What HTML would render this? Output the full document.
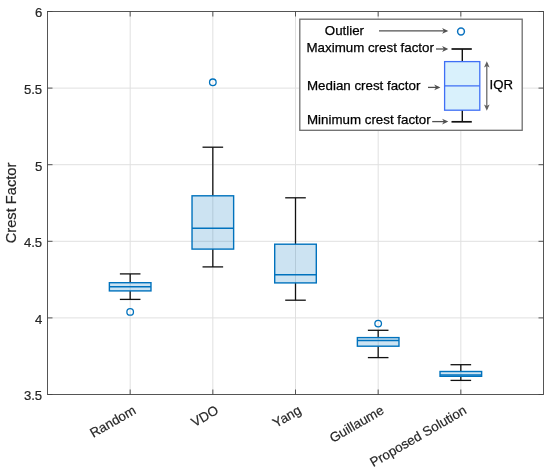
<!DOCTYPE html>
<html><head><meta charset="utf-8"><title>Crest Factor box plot</title>
<style>html,body{margin:0;padding:0;background:#fff;}svg{display:block;}text{font-family:"Liberation Sans",Arial,sans-serif;fill:#262626;stroke:#262626;stroke-width:0.2px;}text.lg{fill:#000;stroke:#000;stroke-width:0.25px;}</style></head><body>
<svg width="550" height="471" viewBox="0 0 550 471">
<rect x="0" y="0" width="550" height="471" fill="#fff"/>
<g stroke="#e0e0e0" stroke-width="1" fill="none">
<line x1="130.17" y1="11.5" x2="130.17" y2="394.5"/>
<line x1="212.83" y1="11.5" x2="212.83" y2="394.5"/>
<line x1="295.50" y1="11.5" x2="295.50" y2="394.5"/>
<line x1="378.17" y1="11.5" x2="378.17" y2="394.5"/>
<line x1="460.83" y1="11.5" x2="460.83" y2="394.5"/>
<line x1="47.5" y1="88.10" x2="543.5" y2="88.10"/>
<line x1="47.5" y1="164.70" x2="543.5" y2="164.70"/>
<line x1="47.5" y1="241.30" x2="543.5" y2="241.30"/>
<line x1="47.5" y1="317.90" x2="543.5" y2="317.90"/>
</g>
<g>
<rect x="109.37" y="282.70" width="41.60" height="8.20" fill="#0072bd" fill-opacity="0.2" stroke="none"/>
<g stroke="#111" stroke-width="1.3" fill="none">
<line x1="130.17" y1="273.90" x2="130.17" y2="282.70"/>
<line x1="130.17" y1="290.90" x2="130.17" y2="299.40"/>
<line x1="119.87" y1="273.90" x2="140.47" y2="273.90"/>
<line x1="119.87" y1="299.40" x2="140.47" y2="299.40"/>
</g>
<rect x="109.37" y="282.70" width="41.60" height="8.20" fill="none" stroke="#0072bd" stroke-width="1.4"/>
<line x1="109.37" y1="286.70" x2="150.97" y2="286.70" stroke="#0072bd" stroke-width="1.5"/>
<circle cx="130.17" cy="311.90" r="3.3" fill="none" stroke="#0072bd" stroke-width="1.3"/>
</g>
<g>
<rect x="192.03" y="195.80" width="41.60" height="53.30" fill="#0072bd" fill-opacity="0.2" stroke="none"/>
<g stroke="#111" stroke-width="1.3" fill="none">
<line x1="212.83" y1="147.20" x2="212.83" y2="195.80"/>
<line x1="212.83" y1="249.10" x2="212.83" y2="266.90"/>
<line x1="202.53" y1="147.20" x2="223.13" y2="147.20"/>
<line x1="202.53" y1="266.90" x2="223.13" y2="266.90"/>
</g>
<rect x="192.03" y="195.80" width="41.60" height="53.30" fill="none" stroke="#0072bd" stroke-width="1.4"/>
<line x1="192.03" y1="228.20" x2="233.63" y2="228.20" stroke="#0072bd" stroke-width="1.5"/>
<circle cx="212.83" cy="82.30" r="3.3" fill="none" stroke="#0072bd" stroke-width="1.3"/>
</g>
<g>
<rect x="274.70" y="244.20" width="41.60" height="38.70" fill="#0072bd" fill-opacity="0.2" stroke="none"/>
<g stroke="#111" stroke-width="1.3" fill="none">
<line x1="295.50" y1="197.80" x2="295.50" y2="244.20"/>
<line x1="295.50" y1="282.90" x2="295.50" y2="300.20"/>
<line x1="285.20" y1="197.80" x2="305.80" y2="197.80"/>
<line x1="285.20" y1="300.20" x2="305.80" y2="300.20"/>
</g>
<rect x="274.70" y="244.20" width="41.60" height="38.70" fill="none" stroke="#0072bd" stroke-width="1.4"/>
<line x1="274.70" y1="274.70" x2="316.30" y2="274.70" stroke="#0072bd" stroke-width="1.5"/>
</g>
<g>
<rect x="357.37" y="337.60" width="41.60" height="8.60" fill="#0072bd" fill-opacity="0.2" stroke="none"/>
<g stroke="#111" stroke-width="1.3" fill="none">
<line x1="378.17" y1="330.30" x2="378.17" y2="337.60"/>
<line x1="378.17" y1="346.20" x2="378.17" y2="357.60"/>
<line x1="367.87" y1="330.30" x2="388.47" y2="330.30"/>
<line x1="367.87" y1="357.60" x2="388.47" y2="357.60"/>
</g>
<rect x="357.37" y="337.60" width="41.60" height="8.60" fill="none" stroke="#0072bd" stroke-width="1.4"/>
<line x1="357.37" y1="340.60" x2="398.97" y2="340.60" stroke="#0072bd" stroke-width="1.5"/>
<circle cx="378.17" cy="323.60" r="3.3" fill="none" stroke="#0072bd" stroke-width="1.3"/>
</g>
<g>
<rect x="440.03" y="371.50" width="41.60" height="4.80" fill="#0072bd" fill-opacity="0.2" stroke="none"/>
<g stroke="#111" stroke-width="1.3" fill="none">
<line x1="460.83" y1="364.70" x2="460.83" y2="371.50"/>
<line x1="460.83" y1="376.30" x2="460.83" y2="380.40"/>
<line x1="450.53" y1="364.70" x2="471.13" y2="364.70"/>
<line x1="450.53" y1="380.40" x2="471.13" y2="380.40"/>
</g>
<rect x="440.03" y="371.50" width="41.60" height="4.80" fill="none" stroke="#0072bd" stroke-width="1.4"/>
<line x1="440.03" y1="375.00" x2="481.63" y2="375.00" stroke="#0072bd" stroke-width="1.5"/>
</g>
<g stroke="#444" stroke-width="0.9" fill="none">
<rect x="47.5" y="11.5" width="496.0" height="383.0"/>
<line x1="130.17" y1="394.5" x2="130.17" y2="389.5"/>
<line x1="130.17" y1="11.5" x2="130.17" y2="16.5"/>
<line x1="212.83" y1="394.5" x2="212.83" y2="389.5"/>
<line x1="212.83" y1="11.5" x2="212.83" y2="16.5"/>
<line x1="295.50" y1="394.5" x2="295.50" y2="389.5"/>
<line x1="295.50" y1="11.5" x2="295.50" y2="16.5"/>
<line x1="378.17" y1="394.5" x2="378.17" y2="389.5"/>
<line x1="378.17" y1="11.5" x2="378.17" y2="16.5"/>
<line x1="460.83" y1="394.5" x2="460.83" y2="389.5"/>
<line x1="460.83" y1="11.5" x2="460.83" y2="16.5"/>
<line x1="47.5" y1="11.50" x2="52.5" y2="11.50"/>
<line x1="543.5" y1="11.50" x2="538.5" y2="11.50"/>
<line x1="47.5" y1="88.10" x2="52.5" y2="88.10"/>
<line x1="543.5" y1="88.10" x2="538.5" y2="88.10"/>
<line x1="47.5" y1="164.70" x2="52.5" y2="164.70"/>
<line x1="543.5" y1="164.70" x2="538.5" y2="164.70"/>
<line x1="47.5" y1="241.30" x2="52.5" y2="241.30"/>
<line x1="543.5" y1="241.30" x2="538.5" y2="241.30"/>
<line x1="47.5" y1="317.90" x2="52.5" y2="317.90"/>
<line x1="543.5" y1="317.90" x2="538.5" y2="317.90"/>
<line x1="47.5" y1="394.50" x2="52.5" y2="394.50"/>
<line x1="543.5" y1="394.50" x2="538.5" y2="394.50"/>
</g>
<text x="42.2" y="17.30" font-size="13.15" text-anchor="end">6</text>
<text x="42.2" y="93.90" font-size="13.15" text-anchor="end">5.5</text>
<text x="42.2" y="170.50" font-size="13.15" text-anchor="end">5</text>
<text x="42.2" y="247.10" font-size="13.15" text-anchor="end">4.5</text>
<text x="42.2" y="323.70" font-size="13.15" text-anchor="end">4</text>
<text x="42.2" y="400.30" font-size="13.15" text-anchor="end">3.5</text>
<text transform="translate(16.2,203) rotate(-90)" font-size="14.67" text-anchor="middle">Crest Factor</text>
<text transform="translate(136.87,412.90) rotate(-30)" font-size="13.33" text-anchor="end">Random</text>
<text transform="translate(219.53,412.90) rotate(-30)" font-size="13.33" text-anchor="end">VDO</text>
<text transform="translate(302.20,412.90) rotate(-30)" font-size="13.33" text-anchor="end">Yang</text>
<text transform="translate(384.87,412.90) rotate(-30)" font-size="13.33" text-anchor="end">Guillaume</text>
<text transform="translate(467.53,412.90) rotate(-30)" font-size="13.33" text-anchor="end">Proposed Solution</text>
<g>
<rect x="299.8" y="19.2" width="222.4" height="111.1" fill="#fff" stroke="#6e6e6e" stroke-width="1.3"/>
<text x="324.8" y="34.6" font-size="13.33" class="lg">Outlier</text>
<text x="306.5" y="51.8" font-size="13.33" class="lg">Maximum crest factor</text>
<text x="307.0" y="89.7" font-size="13.33" class="lg">Median crest factor</text>
<text x="307.0" y="123.5" font-size="13.33" class="lg">Minimum crest factor</text>
<text x="489.5" y="88.5" font-size="13.2" class="lg">IQR</text>
<line x1="379" y1="30.9" x2="446.3" y2="30.9" stroke="#505050" stroke-width="1.3"/><path d="M448.3,30.9 L442.1,28.0 L443.90000000000003,30.9 L442.1,33.8 Z" fill="#505050"/>
<line x1="436" y1="49" x2="446.3" y2="49" stroke="#505050" stroke-width="1.3"/><path d="M448.3,49 L442.1,46.1 L443.90000000000003,49 L442.1,51.9 Z" fill="#505050"/>
<line x1="428" y1="87.4" x2="438.4" y2="87.4" stroke="#505050" stroke-width="1.3"/><path d="M440.4,87.4 L434.2,84.5 L436.0,87.4 L434.2,90.30000000000001 Z" fill="#505050"/>
<line x1="432.2" y1="121.6" x2="446.3" y2="121.6" stroke="#505050" stroke-width="1.3"/><path d="M448.3,121.6 L442.1,118.69999999999999 L443.90000000000003,121.6 L442.1,124.5 Z" fill="#505050"/>
<line x1="486.8" y1="63" x2="486.8" y2="109" stroke="#606060" stroke-width="1.2"/>
<path d="M486.8,61.2 L484.0,67.6 L486.8,65.9 L489.6,67.6 Z" fill="#606060"/>
<path d="M486.8,110.8 L484.0,104.4 L486.8,106.1 L489.6,104.4 Z" fill="#606060"/>
<circle cx="461" cy="31.5" r="3.4" fill="none" stroke="#0b73c0" stroke-width="1.5"/>
<g stroke="#111" fill="none">
<line x1="451.5" y1="49" x2="471.8" y2="49" stroke-width="1.7"/>
<line x1="451.5" y1="121.8" x2="471.8" y2="121.8" stroke-width="1.7"/>
<line x1="462.3" y1="49" x2="462.3" y2="61.5" stroke-width="1.4"/>
<line x1="462.3" y1="110" x2="462.3" y2="121.8" stroke-width="1.4"/>
</g>
<rect x="444.6" y="61.6" width="35.2" height="48.6" fill="#d9f1fc" stroke="#3f6ff5" stroke-width="1.3"/>
<line x1="444.6" y1="85.8" x2="479.8" y2="85.8" stroke="#3f6ff5" stroke-width="1.3"/>
</g>
</svg></body></html>
